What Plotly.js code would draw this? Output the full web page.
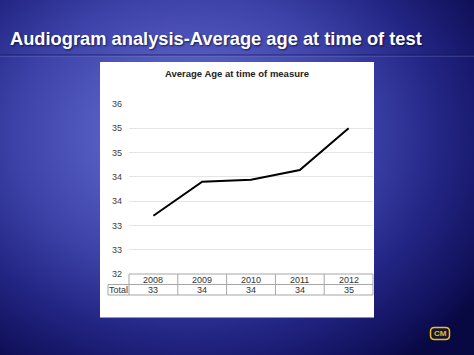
<!DOCTYPE html>
<html>
<head>
<meta charset="utf-8">
<script src="https://cdn.plot.ly/plotly-3.0.1.min.js"></script>
<style>
html,body{margin:0;padding:0;width:474px;height:355px;overflow:hidden;}
body{background:radial-gradient(ellipse 75% 80% at 40% 38%, #6c72d6 0%, #555cc2 25%, #3b41a6 50%, #222482 72%, #10105a 92%, #080842 100%);}
#chart{width:474px;height:355px;}
</style>
</head>
<body>
<div id="chart"></div>
<script>
const slideTitle = "Audiogram analysis-Average age at time of test";
const chartTitle = "Average Age at time of measure";
const years = ["2008", "2009", "2010", "2011", "2012"];
const avgAge = [33.2, 33.9, 33.94, 34.14, 35.0];
const rowLabel = "Total";
const yTickVals = [32, 32.5, 33, 33.5, 34, 34.5, 35, 35.5];
const yTickText = ["32", "33", "33", "34", "34", "35", "35", "36"];
const logoText = "CM";

const W = 474, H = 355;
const M = {l: 129, r: 101, t: 104, b: 81};
const pw = W - M.l - M.r, ph = H - M.t - M.b;
const px = v => (v - M.l) / pw;          // pixel -> paper x
const py = v => (H - M.b - v) / ph;      // pixel -> paper y
const N = years.length;

const font = "Liberation Sans, Arial, sans-serif";
const gridC = "#a6a6a6";

// rounded-rect path in paper coords for the logo
function roundRect(x0, y0, x1, y1, r) {
  const X = v => px(v), Y = v => py(v);
  return `M ${X(x0 + r)},${Y(y0)} L ${X(x1 - r)},${Y(y0)} Q ${X(x1)},${Y(y0)} ${X(x1)},${Y(y0 + r)} ` +
         `L ${X(x1)},${Y(y1 - r)} Q ${X(x1)},${Y(y1)} ${X(x1 - r)},${Y(y1)} L ${X(x0 + r)},${Y(y1)} ` +
         `Q ${X(x0)},${Y(y1)} ${X(x0)},${Y(y1 - r)} L ${X(x0)},${Y(y0 + r)} Q ${X(x0)},${Y(y0)} ${X(x0 + r)},${Y(y0)} Z`;
}

const shapes = [
  // white chart box
  {type: "rect", xref: "paper", yref: "paper", layer: "below",
   x0: px(100), x1: px(374), y0: py(317.5), y1: py(62),
   fillcolor: "#ffffff", line: {width: 0}},
  // title underline
  {type: "line", xref: "paper", yref: "paper",
   x0: px(0), x1: px(474), y0: py(55), y1: py(55),
   line: {color: "rgba(20,20,70,0.75)", width: 1}},
  {type: "line", xref: "paper", yref: "paper",
   x0: px(0), x1: px(474), y0: py(56.2), y1: py(56.2),
   line: {color: "rgba(140,150,230,0.35)", width: 1}},
  // table horizontal lines
  {type: "line", xref: "paper", yref: "paper", x0: 0, x1: 1, y0: py(274), y1: py(274), line: {color: gridC, width: 1}},
  {type: "line", xref: "paper", yref: "paper", x0: px(108), x1: 1, y0: py(284.5), y1: py(284.5), line: {color: gridC, width: 1}},
  {type: "line", xref: "paper", yref: "paper", x0: px(108), x1: 1, y0: py(295), y1: py(295), line: {color: gridC, width: 1}},
  {type: "line", xref: "paper", yref: "paper", x0: px(108), x1: px(108), y0: py(284.5), y1: py(295), line: {color: gridC, width: 1}},
  // logo
  {type: "path", xref: "paper", yref: "paper", path: roundRect(430.5, 327.5, 449.5, 339.5, 4),
   fillcolor: "#1a1230", line: {color: "#e8c020", width: 1.5}}
];
for (let k = 0; k <= N; k++) {
  shapes.push({type: "line", xref: "paper", yref: "paper",
    x0: k / N, x1: k / N, y0: py(274), y1: py(295),
    line: {color: gridC, width: 1}});
}

const annotations = [
  {text: slideTitle, xref: "paper", yref: "paper", x: px(8), y: py(38),
   xanchor: "left", yanchor: "middle", showarrow: false,
   font: {family: font, size: 18.3, color: "#ffffff", weight: "bold", shadow: "1px 1px 2px rgba(0,0,40,0.7)"}},
  {text: chartTitle, xref: "paper", yref: "paper", x: px(237), y: py(73),
   xanchor: "center", yanchor: "middle", showarrow: false,
   font: {family: font, size: 9.5, color: "#222222", weight: "bold"}},
  {text: rowLabel, xref: "paper", yref: "paper", x: px(118.5), y: py(290),
   xanchor: "center", yanchor: "middle", showarrow: false,
   font: {family: font, size: 9, color: "#333333"}},
  {text: logoText, xref: "paper", yref: "paper", x: px(440), y: py(333.8),
   xanchor: "center", yanchor: "middle", showarrow: false,
   font: {family: font, size: 8, color: "#e8c020", weight: "bold"}}
];
years.forEach((yr, i) => {
  annotations.push({text: yr, xref: "x", yref: "paper", x: i, y: py(279.5),
    xanchor: "center", yanchor: "middle", showarrow: false,
    font: {family: font, size: 9, color: "#333333"}});
  annotations.push({text: avgAge[i].toFixed(0), xref: "x", yref: "paper", x: i, y: py(290),
    xanchor: "center", yanchor: "middle", showarrow: false,
    font: {family: font, size: 9, color: "#333333"}});
});

const trace = {
  type: "scatter", mode: "lines", x: years, y: avgAge,
  line: {color: "#000000", width: 2}, hoverinfo: "skip", cliponaxis: false
};

const layout = {
  width: W, height: H, margin: M,
  paper_bgcolor: "rgba(0,0,0,0)", plot_bgcolor: "rgba(0,0,0,0)",
  showlegend: false,
  xaxis: {type: "category", range: [-0.5, N - 0.5], showticklabels: false,
          showgrid: false, zeroline: false, showline: false, ticks: ""},
  yaxis: {range: [32, 35.5], tickvals: yTickVals, ticktext: yTickText,
          showgrid: true, gridcolor: "#e4e4e4", gridwidth: 1, zeroline: false,
          showline: false, ticks: "", ticklabelstandoff: 6,
          tickfont: {family: font, size: 9, color: "#404040"}},
  shapes: shapes, annotations: annotations
};

Plotly.newPlot("chart", [trace], layout, {displayModeBar: false, staticPlot: true});
</script>
</body>
</html>
